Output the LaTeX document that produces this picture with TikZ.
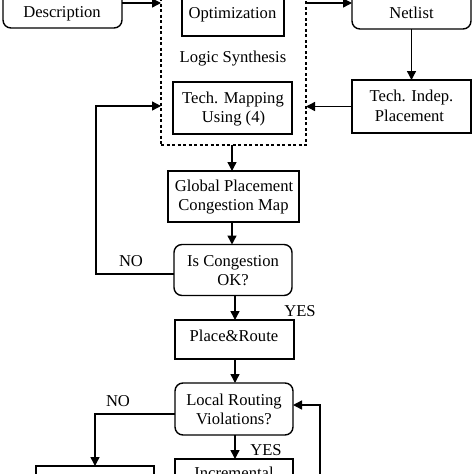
\documentclass[tikz,border=0pt]{standalone}
\usepackage{fontspec}
\setmainfont{Liberation Serif}
\usetikzlibrary{arrows.meta}
\begin{document}
\begin{tikzpicture}[x=1pt,y=-1pt,
  every node/.style={inner sep=0pt,outer sep=0pt},
  box/.style={draw,line width=1.4pt,rectangle},
  rbox/.style={box,rounded corners=8pt},
  dbox/.style={draw,line width=1.2pt,dash pattern=on 3pt off 2.5pt},
  txt/.style={anchor=base,font=\fontsize{16.6}{20}\selectfont},
  ln/.style={line width=1.4pt},
  arr/.style={ln,-{Triangle[length=9pt,width=9pt]}}]
\useasboundingbox (0,0) rectangle (474,474);
\clip (0,0) rectangle (474,474);
\fill[white] (0,0) rectangle (474,474);
% boxes
\node[rbox,minimum width=119pt,minimum height=50pt] (desc) at (62.5,3) {};
\node[dbox,minimum width=145pt,minimum height=165pt] (dash) at (233.5,62.5) {};
\node[box,minimum width=102pt,minimum height=76pt] (opt) at (233,-2) {};
\node[rbox,minimum width=119pt,minimum height=52pt] (net) at (411.5,3) {};
\node[box,minimum width=119pt,minimum height=52pt] (tmap) at (232.5,108) {};
\node[box,minimum width=119pt,minimum height=53pt] (tip) at (411.5,106.5) {};
\node[box,minimum width=131pt,minimum height=51pt] (gp) at (233.5,196.5) {};
\node[rbox,minimum width=118pt,minimum height=51pt] (cong) at (233,270) {};
\node[box,minimum width=119pt,minimum height=39pt] (pr) at (234.5,339.5) {};
\node[rbox,minimum width=118pt,minimum height=52pt] (lrv) at (234,409) {};
\node[box,minimum width=118pt,minimum height=60pt] (blbox) at (95,496) {};
\node[box,minimum width=118pt,minimum height=60pt] (inc) at (234,489) {};
% texts
\node[txt] (desct) at (62,17) {Description};
\node[txt] (optt) at (232.5,18) {Optimization};
\node[txt] (nett) at (411.5,18) {Netlist};
\node[txt] (lst) at (233,62) {Logic Synthesis};
\node[txt] (tmt1) at (233,103.5) {Tech. Mapping};
\node[txt] (tmt2) at (233.5,122.5) {Using (4)};
\node[txt] (tipt1) at (411.5,101.5) {Tech. Indep.};
\node[txt] (tipt2) at (409.5,121.5) {Placement};
\node[txt] (gpt1) at (234,191) {Global Placement};
\node[txt] (gpt2) at (233.5,210) {Congestion Map};
\node[txt] (congt1) at (233,266) {Is Congestion};
\node[txt] (congt2) at (233,285) {OK?};
\node[txt] (no1) at (131,266) {NO};
\node[txt] (yes1) at (300,316) {YES};
\node[txt] (prt) at (234,341) {Place\&Route};
\node[txt] (lrvt1) at (234,405) {Local Routing};
\node[txt] (lrvt2) at (234,424) {Violations?};
\node[txt] (no2) at (118,406) {NO};
\node[txt] (yes2) at (266,455) {YES};
\node[txt] (inct) at (234,478) {Incremental};
% connectors
\coordinate (l1) at (96,274);
\coordinate (l2) at (96,106);
\coordinate (l3) at (95,414);
\coordinate (r1) at (320,405);
\coordinate (r0) at (320,480);
\draw[arr] (desc.east) -- (desc.east -| dash.west);
\draw[arr] (net.west -| dash.east) -- (net.west);
\draw[arr] (net.south) -- (tip.north);
\draw[arr] (tip.west) -- (tip.west -| dash.east);
\draw[arr] (l1 -| cong.west) -- (l1) -- (l2) -- (l2 -| dash.west);
\draw[arr] (dash.south -| 232,0) -- (gp.north -| 232,0);
\draw[arr] (gp.south -| 232,0) -- (cong.north -| 232,0);
\draw[arr] (cong.south -| 235,0) -- (pr.north -| 235,0);
\draw[arr] (pr.south -| 235,0) -- (lrv.north -| 235,0);
\draw[arr] (lrv.south -| 235,0) -- (inc.north -| 235,0);
\draw[arr] (l3 -| lrv.west) -- (l3) -- (l3 |- blbox.north);
\draw[arr] (r0) -- (r1) -- (r1 -| lrv.east);
\end{tikzpicture}
\end{document}
